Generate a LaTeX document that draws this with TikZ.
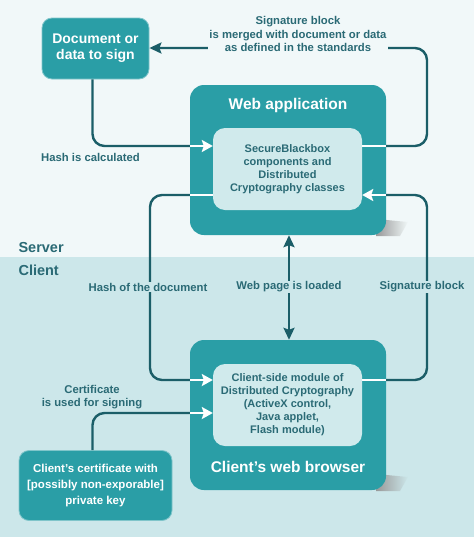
\documentclass[tikz,border=0pt]{standalone}
\usepackage{fontspec}
\setmainfont{Liberation Sans}
\usetikzlibrary{arrows.meta,positioning,calc,fadings}
\definecolor{serverbg}{HTML}{F1F8F9}
\definecolor{clientbg}{HTML}{CCE7EA}
\definecolor{boxteal}{HTML}{2A9EA6}
\definecolor{corebg}{HTML}{D0EAEC}
\definecolor{linkcol}{HTML}{1B5E68}
\definecolor{labelcol}{HTML}{2A6A75}

\begin{document}
\begin{tikzpicture}[x=1pt,y=-1pt,
    box/.style={fill=boxteal, rounded corners=14pt, inner sep=0pt},
    corebox/.style={fill=corebg, rounded corners=12pt, inner sep=0pt, align=center,
        text=labelcol, font=\bfseries\fontsize{11}{13}\selectfont},
    smallbox/.style={fill=boxteal, draw=boxteal!60!white, line width=0.8pt, rounded corners=10pt,
        inner sep=0pt, align=center, text=white},
    title/.style={text=white, font=\bfseries\fontsize{15.5}{18}\selectfont},
    lbl/.style={text=labelcol, align=center, inner sep=1pt, font=\bfseries\fontsize{11.3}{13.5}\selectfont},
    link/.style={draw=linkcol, line width=2.4pt, rounded corners=12pt},
    wlink/.style={draw=white, line width=2.4pt, -{Stealth[length=11pt,width=12pt,inset=2pt]}},
    dhead/.style={-{Stealth[length=12pt,width=11pt,inset=2pt]}},
    boxshadow/.style={fill=black!40, path fading=east}]
    \useasboundingbox (0,0) rectangle (474,541);
    \fill[white] (0,0) rectangle (474,541);

    % Server / client areas
    \fill[serverbg] (0,0) rectangle (474,257);
    \fill[clientbg] (0,257) rectangle (474,537);
    \node[anchor=west, text=labelcol, font=\bfseries\fontsize{14.5}{17}\selectfont] (server) at (15,248) {Server};
    \node[anchor=west, text=labelcol, font=\bfseries\fontsize{14.5}{17}\selectfont] (client) at (15,270) {Client};

    % Shadows
    \fill[boxshadow] (376,219) -- (408,222) -- (400,236) -- (376,236) -- cycle;
    \fill[boxshadow] (376,474) -- (408,477) -- (400,491) -- (376,491) -- cycle;

    % Boxes
    \node[smallbox, minimum width=107pt, minimum height=61pt,
        font=\bfseries\fontsize{14}{16}\selectfont] (doc) at (95.5,48.5) {Document or\\data to sign};
    \node[box, minimum width=196pt, minimum height=150pt] (webapp) at (288,160) {};
    \node[title] (webtitle) at (288,105) {Web application};
    \node[corebox, minimum width=149pt, minimum height=82pt] (webcore) at (287.5,169)
        {SecureBlackbox\\components and\\Distributed\\Cryptography classes};
    \node[box, minimum width=196pt, minimum height=150pt] (browser) at (288,415) {};
    \node[title] (browsertitle) at (288,467) {Client’s web browser};
    \node[corebox, minimum width=149pt, minimum height=82pt] (module) at (287.5,405)
        {Client-side module of\\Distributed Cryptography\\(ActiveX control,\\Java applet,\\Flash module)};
    \node[smallbox, minimum width=153pt, minimum height=70pt,
        font=\bfseries\fontsize{11.5}{16}\selectfont] (cert) at (95.5,485.5)
        {Client’s certificate with\\{[possibly non-exporable]}\\private key};

    % Connector points
    \coordinate (hashin) at (webapp.west |- 0,146);
    \coordinate (sigout) at (webapp.east |- 0,146);
    \coordinate (hashout) at (webapp.west |- 0,195);
    \coordinate (sigin) at (webapp.east |- 0,195);
    \coordinate (hashcli) at (browser.west |- 0,380);
    \coordinate (sigcli) at (browser.east |- 0,380);
    \coordinate (certin) at (browser.west |- 0,413);
    \coordinate (rtop) at (427,48);
    \coordinate (lcol) at (150,287);
    \coordinate (rcol) at (427,287);

    % Hash is calculated
    \draw[link] ([xshift=-3pt]doc.south) |- (hashin);
    \draw[wlink] (hashin) -- (hashin -| webcore.west);
    \node[lbl, anchor=west] (hashlbl) at (40,157) {Hash is calculated};

    % Signature block merged
    \draw[white, line width=2.4pt] (sigout -| webcore.east) -- (sigout);
    \draw[link, dhead] (sigout) -| (rtop) -- (rtop -| doc.east);
    \node[lbl, fill=serverbg] (siglbl) at (298,34)
        {Signature block\\is merged with document or data\\as defined in the standards};

    % Hash of the document
    \draw[white, line width=2.4pt] (hashout -| webcore.west) -- (hashout);
    \draw[link] (hashout) -| (lcol) |- (hashcli);
    \draw[wlink] (hashcli) -- (hashcli -| module.west);
    \node[lbl, fill=clientbg] (hashdoclbl) at (148,287) {Hash of the document};

    % Signature block back to server
    \draw[white, line width=2.4pt] (sigcli -| module.east) -- (sigcli);
    \draw[link] (sigcli) -| (rcol) |- (sigin);
    \draw[wlink] (sigin) -- (sigin -| webcore.east);
    \node[lbl, fill=clientbg] (siglbl2) at (422,287) {Signature block};

    % Web page is loaded
    \draw[draw=linkcol, line width=2.4pt, {Stealth[length=12pt,width=11pt,inset=2pt]}-{Stealth[length=12pt,width=11pt,inset=2pt]}]
        ([xshift=1pt]webapp.south) -- ([xshift=1pt]browser.north);
    \node[lbl, fill=clientbg] (pagelbl) at (289,287) {Web page is loaded};

    % Certificate
    \draw[link] ([xshift=-3pt]cert.north) |- (certin);
    \draw[wlink] (certin) -- (certin -| module.west);
    \node[lbl] (certlbl) at (92,397) {Certificate\\is used for signing};
\end{tikzpicture}
\end{document}
